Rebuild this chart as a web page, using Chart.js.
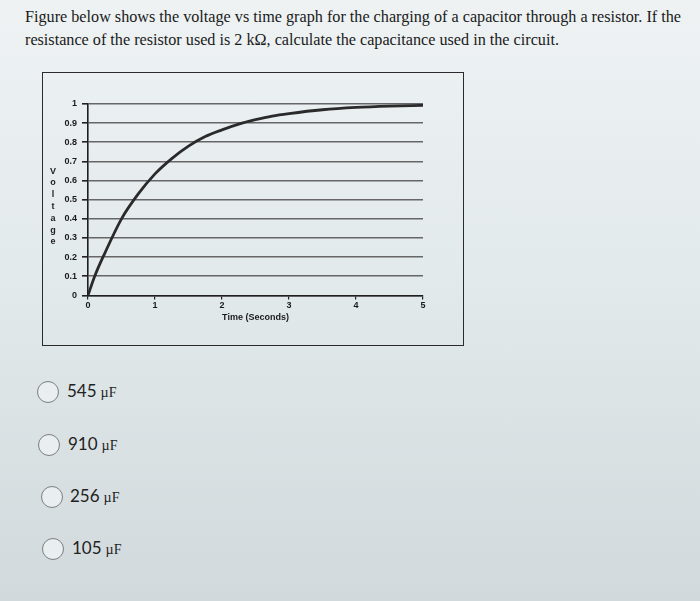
<!DOCTYPE html>
<html>
<head>
<meta charset="utf-8">
<script src="https://cdn.jsdelivr.net/npm/chart.js@4/dist/chart.umd.min.js"></script>
<style>
  html, body { margin:0; padding:0; }
  body {
    width:700px; height:601px; overflow:hidden; position:relative;
    background: linear-gradient(180deg, #eef2f3 0%, #e3eaec 45%, #d2d9dc 100%);
    font-family: "Liberation Serif", "DejaVu Serif", serif;
    color:#1a1a1a;
  }
  .q { position:absolute; left:25px; font-size:16px; white-space:nowrap; transform-origin:0 0; }
  #q1 { top:8px; }
  #q2 { top:31px; }
  #box { position:absolute; left:42px; top:72px; width:420px; height:272px; border:1.5px solid #2b2b2b; }
  #box canvas { position:absolute; left:0; top:0; }
  .circ { position:absolute; width:20px; height:20px; border:1.3px solid #7c7f80; border-radius:50%; background:#e9eef0; }
  .val { position:absolute; font-family: Lato, "Open Sans", sans-serif; font-size:17px; color:#222; white-space:nowrap; }
  .unit { font-family:"Liberation Serif", serif; font-size:14px; margin-left:4px; }
</style>
</head>
<body>
<div class="q" id="q1">Figure below shows the voltage vs time graph for the charging of a capacitor through a resistor. If the</div>
<div class="q" id="q2">resistance of the resistor used is 2 kΩ, calculate the capacitance used in the circuit.</div>

<div id="box"><canvas id="c" width="420" height="272"></canvas></div>

<div id="opts"></div>

<script>
// ---- data ----
const timeValues    = [0, 0.1, 0.25, 0.5, 0.75, 1, 1.25, 1.5, 1.75, 2, 2.25, 2.5, 2.75, 3, 3.5, 4, 4.5, 5];
const voltageValues = [0, 0.10, 0.22, 0.40, 0.53, 0.635, 0.715, 0.78, 0.83, 0.865, 0.895, 0.918, 0.937, 0.95, 0.97, 0.982, 0.989, 0.993];
const xTickLabels = ['0', '1', '2', '3', '4', '5'];
const yTickLabels = ['0', '0.1', '0.2', '0.3', '0.4', '0.5', '0.6', '0.7', '0.8', '0.9', '1'];
const xAxisTitle = 'Time (Seconds)';
const yAxisTitle = 'Voltage';
const optionValues = ['545', '910', '256', '105'];
const optionUnit = 'µF';

// fit question lines
const qWidth = 656;
{
  const q1 = document.getElementById('q1'), q2 = document.getElementById('q2');
  const w = q1.getBoundingClientRect().width;
  q1.style.transform = 'scaleX(' + (qWidth / w) + ')';
  q2.style.transform = q1.style.transform;
}

// answer options
const optPos = [[37, 381, 67], [38, 434, 68], [41, 486, 70], [42, 538, 72]];
const optsEl = document.getElementById('opts');
optionValues.forEach((v, i) => {
  const [cx, cy, tx] = optPos[i];
  const c = document.createElement('div');
  c.className = 'circ'; c.style.left = cx + 'px'; c.style.top = cy + 'px';
  optsEl.appendChild(c);
  const t = document.createElement('div');
  t.className = 'val'; t.style.left = tx + 'px'; t.style.top = (cy - 1) + 'px';
  t.innerHTML = v + '<span class="unit">' + optionUnit + '</span>';
  optsEl.appendChild(t);
});

const points = timeValues.map((t, i) => ({ x: t, y: voltageValues[i] }));

const yTitlePlugin = {
  id: 'yStackTitle',
  afterDraw(chart) {
    const ctx = chart.ctx;
    const y = chart.scales.y;
    ctx.save();
    ctx.fillStyle = '#222';
    ctx.font = 'bold 9px "Liberation Sans", Arial, sans-serif';
    ctx.textAlign = 'center';
    ctx.textBaseline = 'middle';
    const letters = yAxisTitle.split('');
    const startY = y.getPixelForValue(0.665) + 3;
    const step = 11.8;
    letters.forEach((ch, i) => ctx.fillText(ch, 10, startY + i * step));
    ctx.restore();
  }
};

const tickFont = { family: '"Liberation Sans", Arial, sans-serif', size: 9, weight: 'bold' };

new Chart(document.getElementById('c'), {
  type: 'line',
  data: {
    datasets: [{
      data: points,
      borderColor: '#2a2a2a',
      borderWidth: 2.8,
      pointRadius: 0,
      cubicInterpolationMode: 'monotone',
      fill: false
    }]
  },
  options: {
    responsive: false,
    animation: false,
    devicePixelRatio: 1,
    layout: { padding: { left: 0, right: 40, top: 31, bottom: 22 } },
    plugins: { legend: { display: false }, tooltip: { enabled: false } },
    scales: {
      x: {
        type: 'linear', min: 0, max: 5,
        ticks: {
          stepSize: 1, color: '#1a1a1a', padding: 1,
          font: tickFont,
          callback: (v) => xTickLabels[Math.round(v)]
        },
        grid: { drawOnChartArea: false, drawTicks: true, tickLength: 4, tickColor: '#222', lineWidth: 1.2 },
        border: { display: true, color: '#1e1e1e', width: 1.6 },
        title: {
          display: true, text: xAxisTitle, color: '#1a1a1a', padding: { top: 0, bottom: 0 },
          font: tickFont
        }
      },
      y: {
        min: 0, max: 1,
        afterFit: (s) => { s.width = 45; },
        ticks: {
          stepSize: 0.1, color: '#1a1a1a', padding: 5,
          font: tickFont,
          callback: (v, i) => yTickLabels[i]
        },
        grid: { color: '#666666', lineWidth: 1.6, tickLength: 6, tickColor: '#222' },
        border: { display: true, color: '#1e1e1e', width: 1.6 }
      }
    }
  },
  plugins: [yTitlePlugin]
});
</script>
</body>
</html>
